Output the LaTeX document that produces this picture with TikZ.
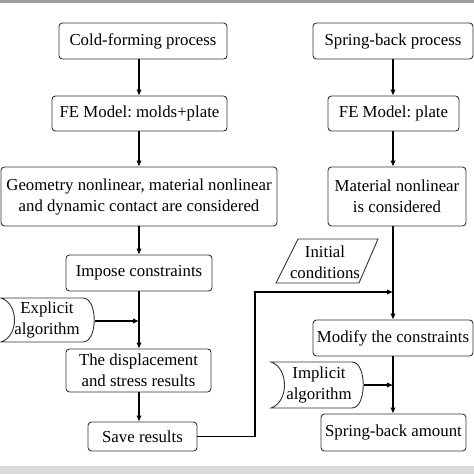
\documentclass[tikz,border=0pt]{standalone}
\usepackage{fontspec}
\setmainfont{Liberation Serif}
\usetikzlibrary{arrows.meta}
\begin{document}
\begin{tikzpicture}[x=1pt,y=-1pt,
  font=\fontsize{16.8}{21}\selectfont,
  box/.style={draw=black!80,line width=0.9pt,rounded corners=3.5pt,align=center,inner sep=0pt,fill=white},
  conn/.style={line width=1.1pt,draw=black},
  arr/.style={conn,-{Latex[length=6pt,width=5.5pt]}},
  shp/.style={draw=black!80,line width=0.9pt}]
\useasboundingbox (0,0) rectangle (474,474);
\fill[black!38] (0,0) rectangle (474,2.5);
\fill[black!15] (0,466) rectangle (474,474);
\coordinate (L) at (139,0);
\coordinate (R) at (393,0);
% left column
\node[box,minimum width=168pt,minimum height=36pt] (cold) at (143,41) {Cold-forming process};
\node[box,minimum width=175pt,minimum height=35pt] (fe1) at (139.5,113.5) {FE Model:\ molds+plate};
\node[box,minimum width=276pt,minimum height=59pt] (geo) at (139,196.5) {Geometry nonlinear, material nonlinear\\and dynamic contact are considered};
\node[box,minimum width=146pt,minimum height=36pt] (imp) at (139,273) {Impose constraints};
\node[box,minimum width=145pt,minimum height=43pt] (disp) at (138.5,370.5) {The displacement\\and stress results};
\node[box,minimum width=109pt,minimum height=29pt] (save) at (142.5,436.5) {Save results};
% right column
\node[box,minimum width=160pt,minimum height=36pt] (spr) at (393,41) {Spring-back process};
\node[box,minimum width=131pt,minimum height=35pt] (fe2) at (393.5,113.5) {FE Model:\ plate};
\node[box,minimum width=138pt,minimum height=59pt] (mat) at (397,196.5) {Material nonlinear\\is considered};
\node[box,minimum width=160pt,minimum height=36pt] (mod) at (393,338) {Modify the constraints};
\node[box,minimum width=145pt,minimum height=37pt] (amt) at (393.5,432.5) {Spring-back amount};
% side shapes
\draw[shp] (1,298) -- (83,298) .. controls (98,298) and (98,342) .. (83,342) -- (1,342) .. controls (19,336) and (19,304) .. (1,298) -- cycle;
\node[align=center,inner sep=0pt] (expl) at (47,320) {Explicit\\algorithm};
\coordinate (explE) at (95,321);
\draw[shp] (271,362) -- (352,362) .. controls (367,362) and (367,408) .. (352,408) -- (271,408) .. controls (289,402) and (289,368) .. (271,362) -- cycle;
\node[align=center,inner sep=0pt] (impl) at (319,385) {Implicit\\algorithm};
\coordinate (implE) at (364,385);
\draw[shp] (298,239) -- (378,239) -- (359,283) -- (276,283) -- cycle;
\node[align=center,inner sep=0pt] (init) at (325,262) {Initial\\conditions};
% connectors left
\draw[arr] (cold.south -| L) -- (fe1.north -| L);
\draw[arr] (fe1.south -| L) -- (geo.north -| L);
\draw[arr] (geo.south -| L) -- (imp.north -| L);
\draw[arr] (imp.south -| L) -- (disp.north -| L);
\draw[arr] (explE) -- (explE -| L);
\draw[arr] (disp.south -| L) -- (save.north -| L);
% connectors right
\draw[arr] (spr.south -| R) -- (fe2.north -| R);
\draw[arr] (fe2.south -| R) -- (mat.north -| R);
\draw[arr] (mat.south -| R) -- (mod.north -| R);
\draw[arr] (mod.south -| R) -- (amt.north -| R);
\draw[arr] (implE) -- (implE -| R);
\coordinate (k1) at (255,292);
\draw[arr] (save.east) -| (k1) -- (k1 -| R);
\end{tikzpicture}
\end{document}
